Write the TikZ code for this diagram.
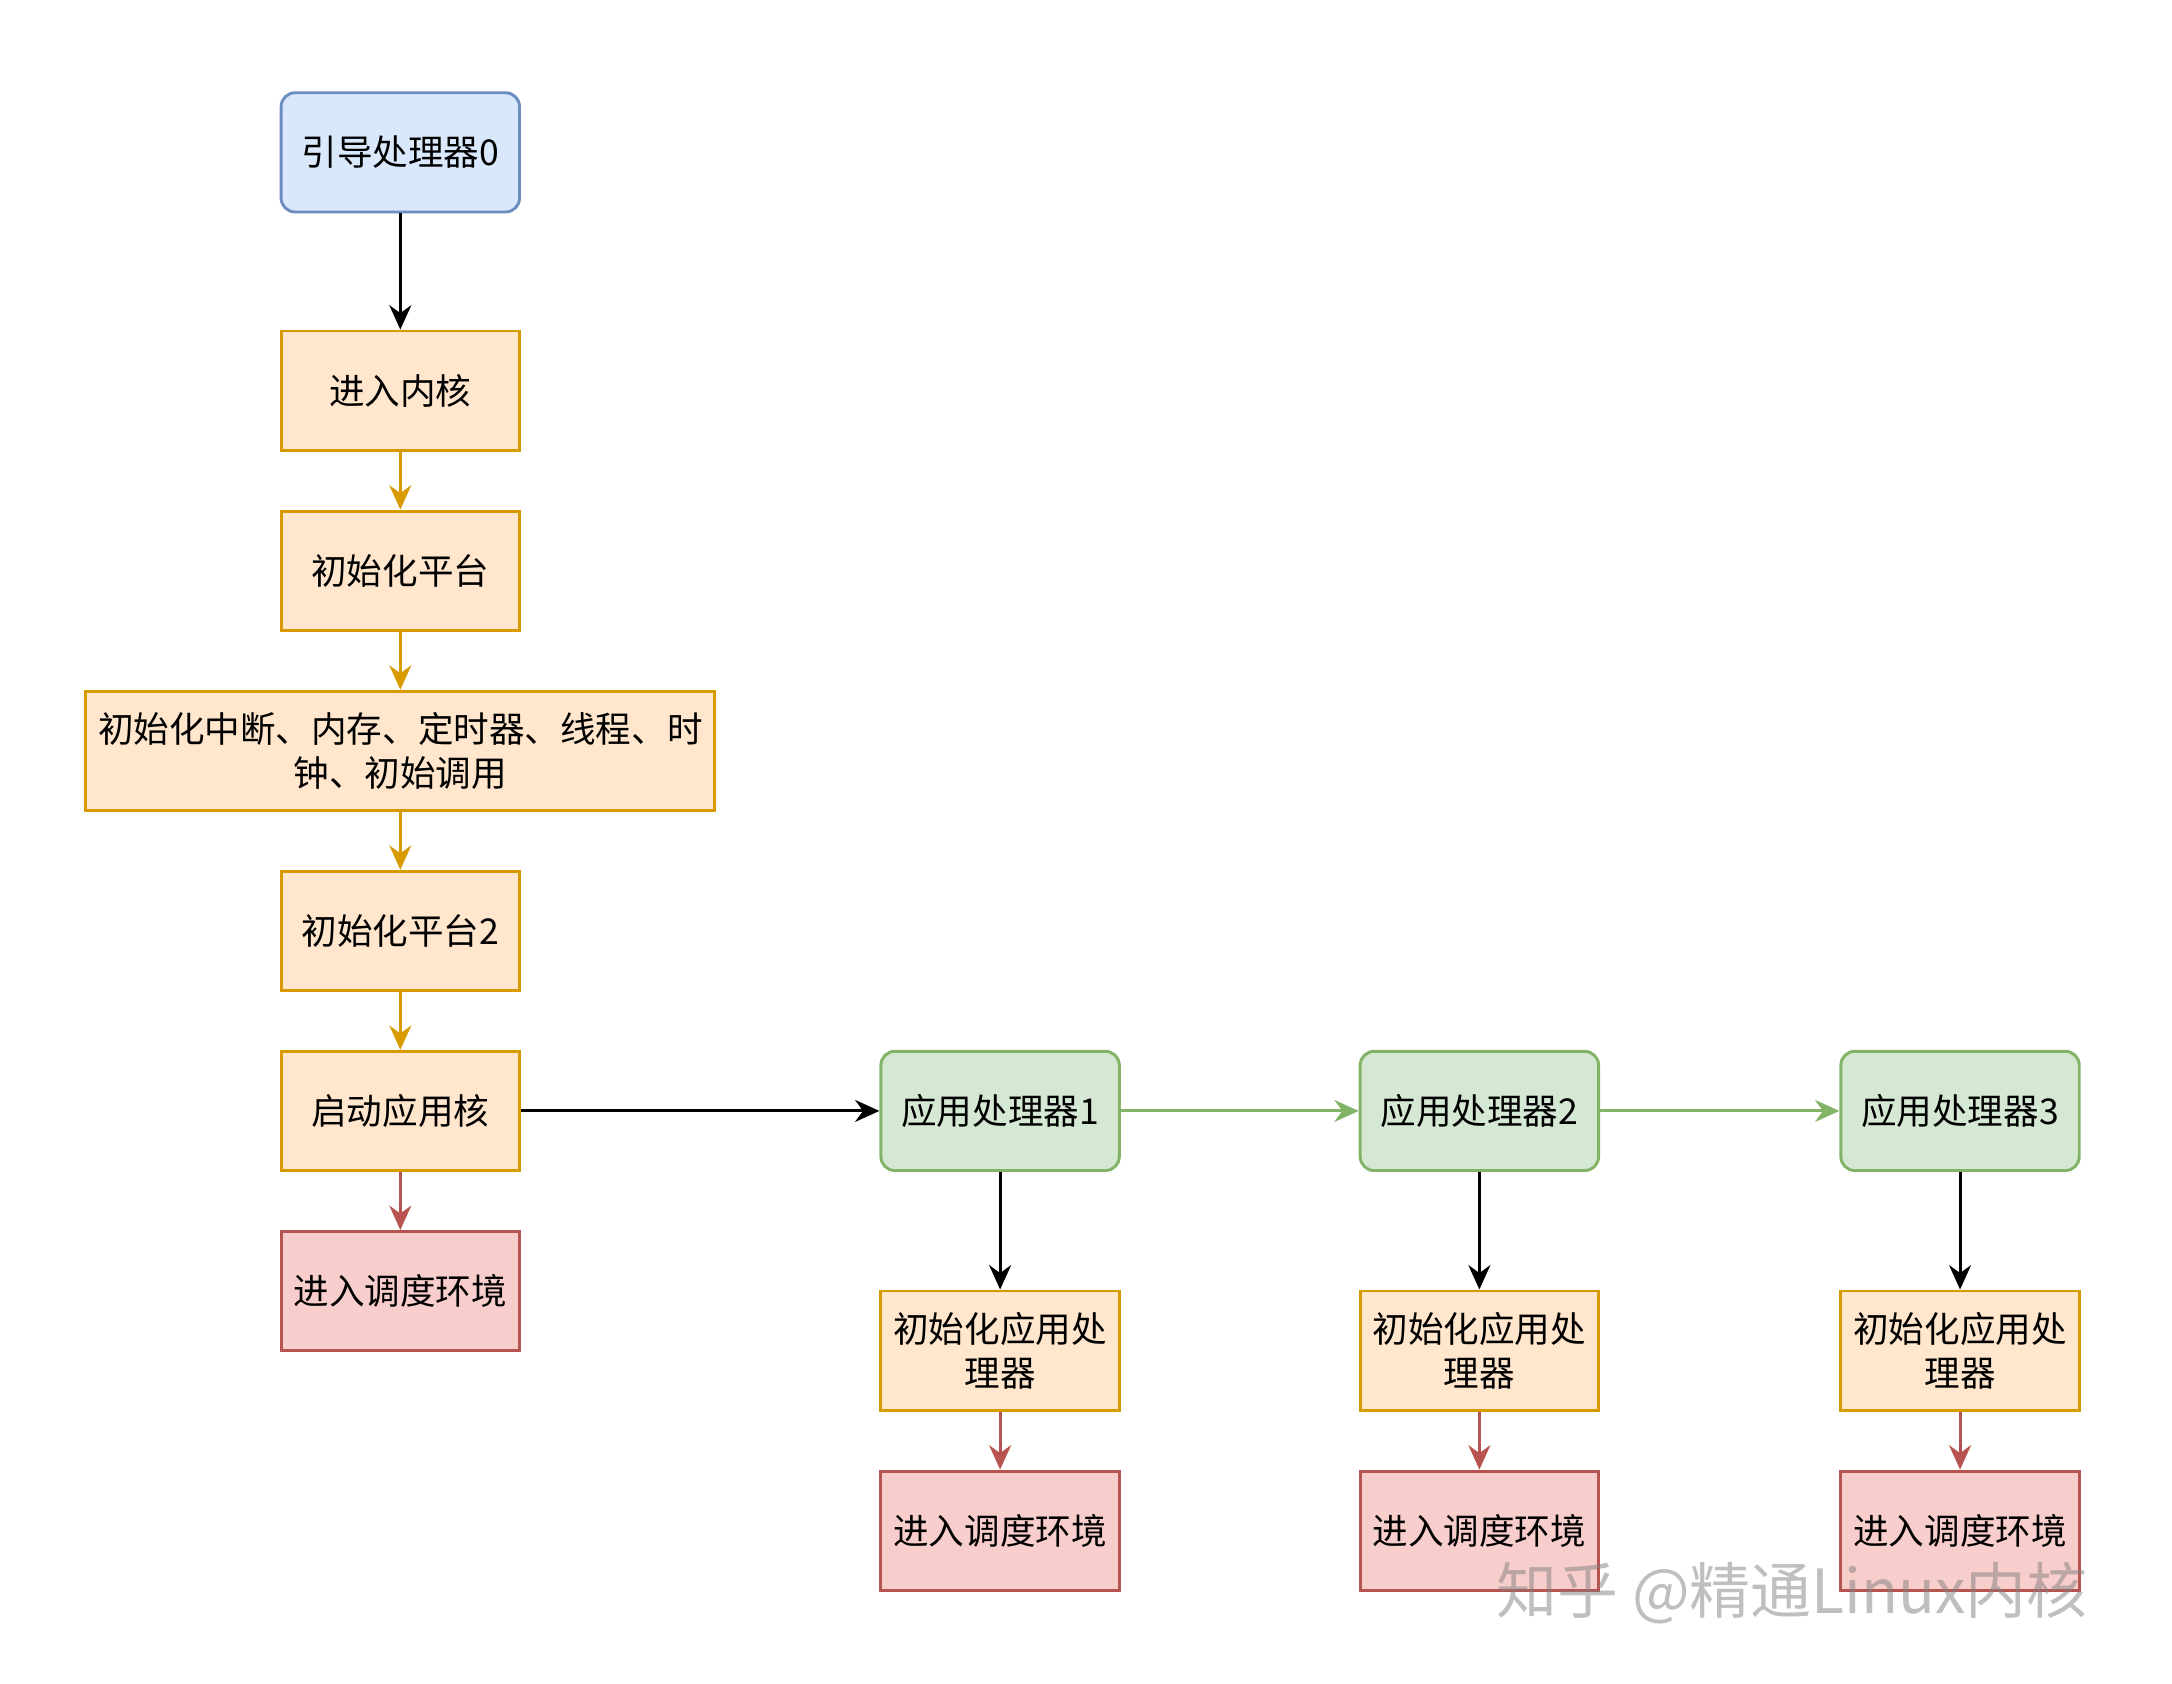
\documentclass[tikz,border=0pt]{standalone}
\usepackage{fontspec}
\setmainfont{Noto Sans CJK SC}
\usetikzlibrary{arrows.meta}
\definecolor{bf}{HTML}{DAE8FC}\definecolor{bs}{HTML}{6C8EBF}
\definecolor{of}{HTML}{FFE6CC}\definecolor{os}{HTML}{D79B00}
\definecolor{rf}{HTML}{F8CECC}\definecolor{rs}{HTML}{B85450}
\definecolor{gf}{HTML}{D5E8D4}\definecolor{gs}{HTML}{82B366}
\begin{document}
\begin{tikzpicture}[x=0.01cm,y=-0.01cm,
 box/.style={draw,line width=0.6pt,minimum width=1.72cm,minimum height=0.86cm,align=center,font=\fontsize{7.3}{9}\selectfont,inner sep=1pt},
 blue/.style={box,fill=bf,draw=bs,rounded corners=0.1cm},
 org/.style={box,fill=of,draw=os},
 red/.style={box,fill=rf,draw=rs},
 grn/.style={box,fill=gf,draw=gs,rounded corners=0.1cm},
 ar/.style={line width=0.6pt,-{Stealth[length=5pt,width=4.5pt]}}]
\useasboundingbox (0,0) rectangle (1568,1215);
\node[blue] (b0) at (289,110) {引导处理器0};
\node[org] (k) at (289,282) {进入内核};
\node[org] (p) at (289,412) {初始化平台};
\node[org,minimum width=4.54cm] (l) at (289,542) {初始化中断、内存、定时器、线程、时\\钟、初始调用};
\node[org] (p2) at (289,672) {初始化平台2};
\node[org] (s) at (289,802) {启动应用核};
\node[red] (e) at (289,932) {进入调度环境};
\draw[ar,black] (b0) -- (k);
\draw[ar,os] (k) -- (p);
\draw[ar,os] (p) -- (l);
\draw[ar,os] (l) -- (p2);
\draw[ar,os] (p2) -- (s);
\draw[ar,rs] (s) -- (e);
\foreach \i/\x in {1/722,2/1068,3/1415}{
 \node[grn] (a\i) at (\x,802) {应用处理器\i};
 \node[org] (i\i) at (\x,975) {初始化应用处\\理器};
 \node[red] (r\i) at (\x,1105) {进入调度环境};
 \draw[ar,black] (a\i) -- (i\i);
 \draw[ar,rs] (i\i) -- (r\i);
}
\draw[ar,black] (s) -- (a1);
\draw[ar,gs] (a1) -- (a2);
\draw[ar,gs] (a2) -- (a3);
\node[text=gray,opacity=0.5,font=\fontsize{12.5}{14}\selectfont,anchor=west] (wm) at (1068,1150) {知乎 @精通Linux内核};
\end{tikzpicture}
\end{document}
